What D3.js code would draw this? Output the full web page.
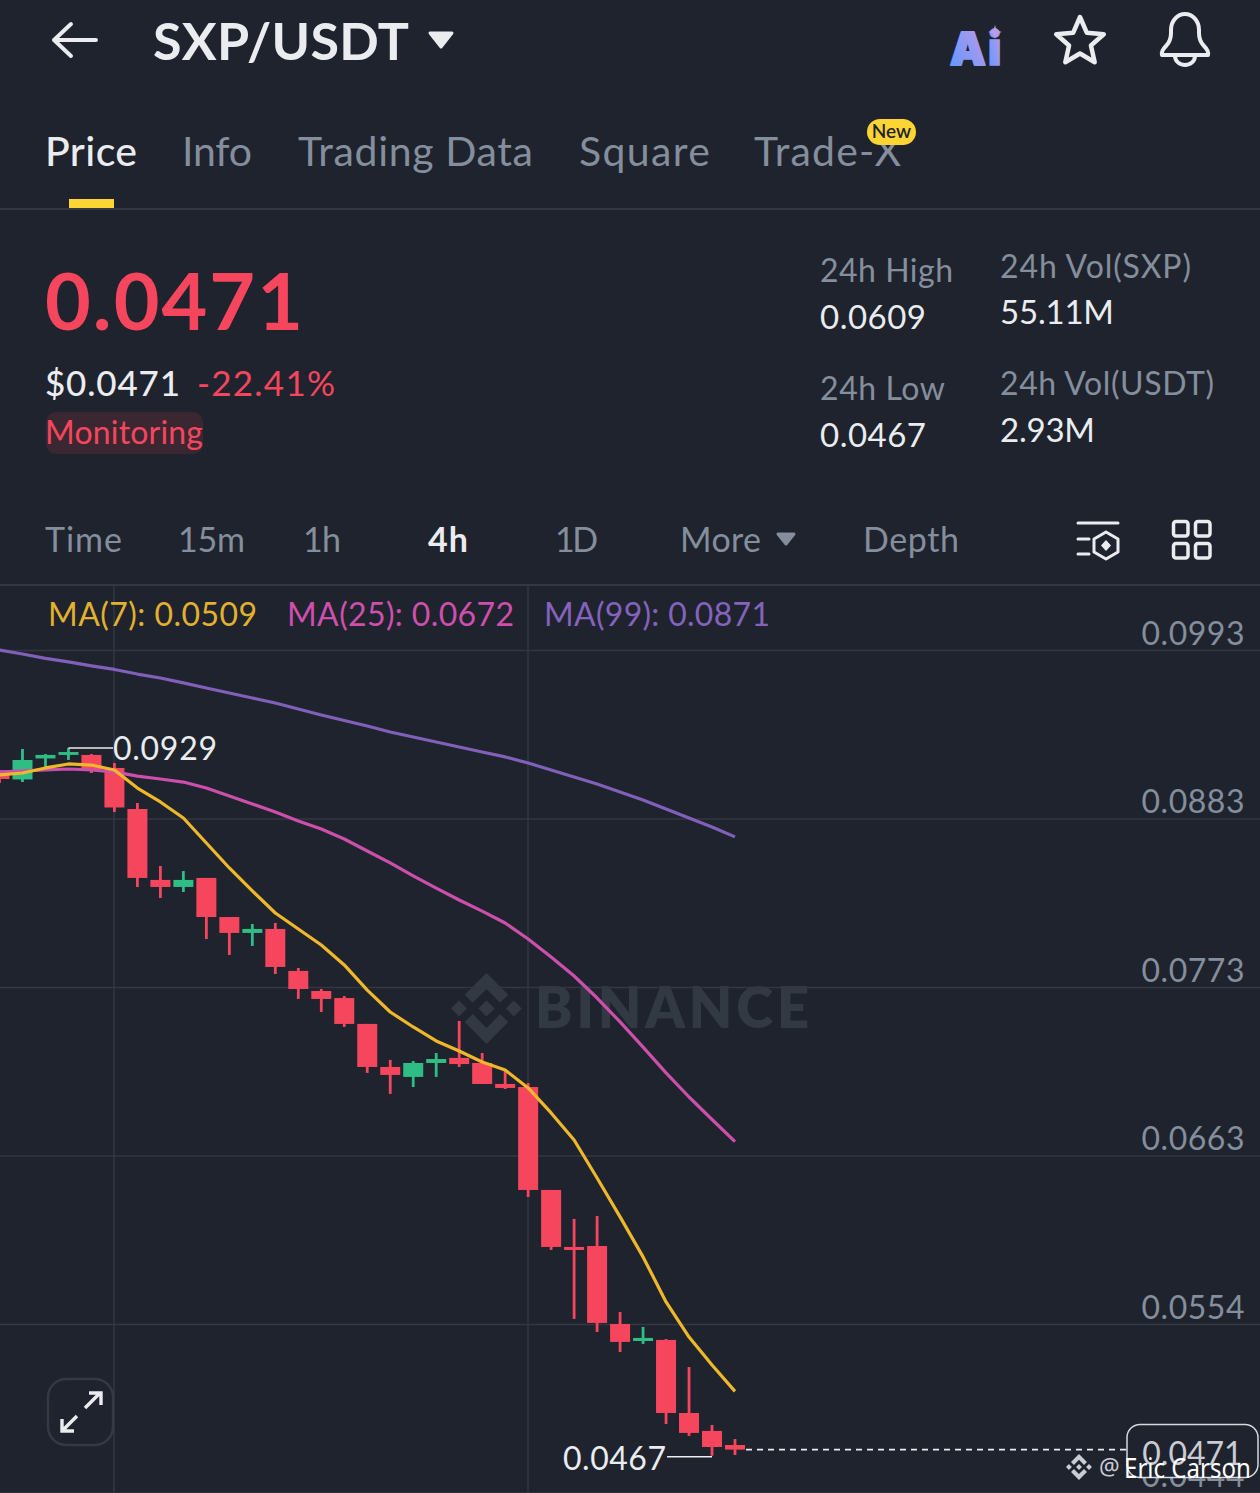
<!DOCTYPE html>
<html>
<head>
<meta charset="utf-8">
<script src="https://cdnjs.cloudflare.com/ajax/libs/d3/7.8.5/d3.min.js"></script>
<style>
  html, body { margin: 0; padding: 0; background: #1e232d; }
  svg { display: block; }
  text { font-family: "Lato", "Inter", sans-serif; }
</style>
</head>
<body>
<svg id="screen" width="1260" height="1493"></svg>
<script>
// 4h candles, oldest first
const opens  = [.09134,.09085,.09222,.09245,.09245,.0916,.08892,.08429,.08383,.08442,.08187,.08083,.08109,.07835,.07704,.07658,.07489,.07208,.07143,.07234,.07267,.07234,.07097,.07077,.06405,.06033,.06039,.0553,.05419,.05426,.04949,.04832,.0474];
const closes = [.09088,.09212,.09245,.09264,.09153,.08902,.08442,.08383,.08429,.08187,.08083,.08109,.07861,.07717,.07652,.07489,.07208,.07156,.07234,.0726,.07227,.07097,.07071,.06405,.06033,.06013,.05537,.05413,.05439,.04949,.04819,.04727,.0471];
const highs  = [.09147,.09284,.09251,.0929,.09251,.09192,.08931,.0852,.08487,.08442,.08187,.08141,.08148,.07854,.07717,.07671,.07489,.07254,.07247,.07299,.07508,.07299,.07188,.07103,.06405,.06216,.06235,.05608,.05511,.05432,.05249,.04871,.04779];
const lows   = [.09062,.09068,.0916,.09212,.09127,.08872,.08383,.08311,.0835,.08043,.07939,.07998,.07815,.07652,.07567,.07469,.07169,.07032,.07077,.07143,.07208,.07097,.07064,.06359,.06013,.05563,.05478,.05347,.054,.04877,.04799,.0467,.04675];

// Moving averages on the same candle index
const ma7  = [.09114,.09127,.0916,.09186,.09179,.09147,.09029,.08938,.08833,.0867,.08507,.08357,.08213,.08109,.08004,.07874,.0771,.07567,.07469,.07378,.07312,.0724,.07188,.07071,.06908,.06731,.06483,.06229,.05968,.05674,.05445,.05262,.0509];
const ma25 = [.09134,.0914,.09147,.09153,.09147,.09134,.09107,.09088,.09068,.09029,.08977,.08925,.08872,.08814,.08761,.08696,.08618,.0854,.08455,.08376,.08298,.08225,.08148,.08043,.07926,.07802,.07658,.07502,.07338,.07169,.07012,.06865,.0672];
const ma99 = [.0993,.09904,.09875,.09852,.09826,.09803,.09773,.09747,.09715,.09682,.09649,.09617,.09584,.09545,.09506,.0947,.09434,.09395,.09362,.09329,.09297,.09264,.09232,.09192,.09147,.09101,.09055,.09003,.08951,.08892,.08833,.08775,.0871];

// Price axis
const gridValues = [.0993,.0883,.0773,.0663,.0553,.0443];
const gridLabels = ["0.0993","0.0883","0.0773","0.0663","0.0554","0.0444"];

// Header and statistics text
const pair = "SXP/USDT";
const tabs = ["Price","Info","Trading Data","Square","Trade-X"];
const tabX = [45,182,298,579,754];
const tabW = [92,70,235,131,147];
const lastPrice = 0.0471, lowPrice = 0.0467, highPrice = 0.0929;
const changeText = "-22.41%";
const statLabels = ["24h High","24h Low","24h Vol(SXP)","24h Vol(USDT)"];
const statValues = ["0.0609","0.0467","55.11M","2.93M"];
const ranges = ["Time","15m","1h","4h","1D","More","Depth"];
const rangeX = [45,178,303,428,555,680,863];
const rangeW = [77,67,38,40,43,81,96];
const legendNames = ["MA(7): 0.0509","MA(25): 0.0672","MA(99): 0.0871"];
const legendX = [48,287,544];
const legendW = [209,227,226];

const BG = "#1e232d", RED = "#f6465d", GREEN = "#2ebd85", GRID = "#323741",
      GREY = "#848e9c", WHITE = "#eaecef", YELLOW = "#fcd535";
const MA_COLORS = ["#efb82a", "#cd4fac", "#8060b8"];

const svg = d3.select("#screen");
svg.append("rect").attr("width", 1260).attr("height", 1493).attr("fill", BG);

const defs = svg.append("defs");
const aiGrad = defs.append("linearGradient").attr("id", "aiFill")
  .attr("x1", 0).attr("y1", 1).attr("x2", 1).attr("y2", 0);
aiGrad.append("stop").attr("offset", "0%").attr("stop-color", "#5d97ff");
aiGrad.append("stop").attr("offset", "100%").attr("stop-color", "#c09be8");

// Text helper; an optional width stretches the string to that advance
function label(parent, str, x, y, size, fill, weight, anchor, width) {
  const t = parent.append("text").attr("x", x).attr("y", y).attr("font-size", size)
    .attr("fill", fill).attr("font-weight", weight || 400)
    .attr("text-anchor", anchor || "start").text(str);
  if (width) t.attr("textLength", width);
  return t;
}

// Top bar
const topBar = svg.append("g");
topBar.append("path").attr("d", "M96 40H54M71 24L54 40L71 56").attr("fill", "none")
  .attr("stroke", WHITE).attr("stroke-width", 4).attr("stroke-linecap", "round").attr("stroke-linejoin", "round");
label(topBar, pair, 153, 60, 52, WHITE, 700, "start", 256);
topBar.append("path").attr("d", "M430 33H452L441 47Z").attr("fill", WHITE).attr("stroke", WHITE)
  .attr("stroke-width", 3).attr("stroke-linejoin", "round");
label(topBar, "A", 950, 65, 45, "url(#aiFill)", 900).style("font-family", "Inter, sans-serif")
  .attr("stroke", "url(#aiFill)").attr("stroke-width", 2).attr("stroke-linejoin", "round");
label(topBar, "i", 988, 65, 45, "url(#aiFill)", 900).style("font-family", "Inter, sans-serif")
  .attr("stroke", "url(#aiFill)").attr("stroke-width", 1.5);
topBar.append("path").attr("d", "M995 25Q996 31 1002 32Q996 33 995 39Q994 33 988 32Q994 31 995 25Z").attr("fill", "#b79ce8");

const starLine = d3.lineRadial().curve(d3.curveLinearClosed);
const starPts = d3.range(10).map(i => [i * Math.PI / 5, i % 2 ? 11.5 : 25]);
topBar.append("path").attr("transform", "translate(1080,42)").attr("d", starLine(starPts))
  .attr("fill", "none").attr("stroke", WHITE).attr("stroke-width", 4.5).attr("stroke-linejoin", "round");
topBar.append("path")
  .attr("d", "M1162 55Q1161 51 1166 46Q1171 41 1171 33V30A14 16 0 0 1 1199 30V33Q1199 41 1204 46Q1209 51 1208 55ZM1175 56A10 9 0 0 0 1195 56")
  .attr("fill", "none").attr("stroke", WHITE).attr("stroke-width", 4).attr("stroke-linejoin", "round");

// Tabs
const tabG = svg.append("g");
tabs.forEach((t, i) => label(tabG, t, tabX[i], 166, 41, i === 0 ? WHITE : GREY, i === 0 ? 500 : 400, "start", tabW[i]));
tabG.append("rect").attr("x", 69).attr("y", 199).attr("width", 45).attr("height", 9).attr("fill", YELLOW);
tabG.append("rect").attr("x", 0).attr("y", 208).attr("width", 1260).attr("height", 2).attr("fill", GRID);
tabG.append("rect").attr("x", 867).attr("y", 119).attr("width", 49).attr("height", 26).attr("rx", 13)
  .attr("fill", YELLOW);
label(tabG, "New", 891.5, 138, 19, "#1e2329", 600, "middle");

// Price block
const priceG = svg.append("g");
label(priceG, lastPrice.toFixed(4), 45, 330, 79, RED, 700, "start", 258);
label(priceG, "$" + lastPrice.toFixed(4), 45, 396, 35, WHITE, 500, "start", 135);
label(priceG, changeText, 197, 396, 35, RED, 400, "start", 138);
priceG.append("rect").attr("x", 46).attr("y", 412).attr("width", 157).attr("height", 42).attr("rx", 10).attr("fill", "#3b2731");
label(priceG, "Monitoring", 45, 444, 32, RED, 400, "start", 158);

label(priceG, statLabels[0], 820, 282, 32, GREY, 400, "start", 133);
label(priceG, statValues[0], 820, 329, 33, WHITE, 400, "start", 106);
label(priceG, statLabels[1], 820, 400, 32, GREY, 400, "start", 125);
label(priceG, statValues[1], 820, 447, 33, WHITE, 400, "start", 106);
label(priceG, statLabels[2], 1000, 278, 32, GREY, 400, "start", 191);
label(priceG, statValues[2], 1000, 324, 33, WHITE, 400, "start", 114);
label(priceG, statLabels[3], 1000, 395, 32, GREY, 400, "start", 214);
label(priceG, statValues[3], 1000, 442, 33, WHITE, 400, "start", 95);

// Interval selector
const rangeG = svg.append("g");
ranges.forEach((r, i) => label(rangeG, r, rangeX[i], 552, 34, r === "4h" ? WHITE : GREY, r === "4h" ? 700 : 400, "start", rangeW[i]));
rangeG.append("path").attr("d", "M778 534H794L786 544Z").attr("fill", GREY).attr("stroke", GREY).attr("stroke-width", 3).attr("stroke-linejoin", "round");
rangeG.append("path")
  .attr("d", "M1078 523H1118M1078 539H1089M1078 554H1089M1106 532L1118 539V552L1106 559L1094 552V539Z")
  .attr("fill", "none").attr("stroke", WHITE).attr("stroke-width", 3).attr("stroke-linecap", "round").attr("stroke-linejoin", "round");
rangeG.append("path").attr("d", "M1106 540L1111 545.5L1106 551L1101 545.5Z").attr("fill", WHITE);
[[1172, 520], [1194, 520], [1172, 542], [1194, 542]].forEach(p => {
  rangeG.append("rect").attr("x", p[0] + 1.5).attr("y", p[1] + 1.5).attr("width", 14.5).attr("height", 14.5).attr("rx", 2.5)
    .attr("fill", "none").attr("stroke", WHITE).attr("stroke-width", 3.5);
});
rangeG.append("rect").attr("x", 0).attr("y", 584).attr("width", 1260).attr("height", 2).attr("fill", GRID);

// Chart scales
const x = d3.scaleLinear().domain([0, 32]).range([-0.5, 735]);
const y = d3.scaleLinear().domain([.0993, .0663]).range([650, 1155.5]);

// Faint exchange mark behind the candles
const logoPaths = [
  "M38.73 53.2l24.59-24.58 24.6 24.6 14.3-14.31L63.32 0 24.43 38.9z",
  "M0 63.31l14.3-14.31 14.31 14.31-14.31 14.3z",
  "M38.73 73.41l24.59 24.59 24.6-24.6 14.31 14.29-38.9 38.91-38.91-38.88z",
  "M98 63.31l14.3-14.31 14.31 14.31-14.31 14.3z",
  "M77.83 63.3L63.32 48.78 52.59 59.51l-1.24 1.23-2.54 2.54 14.51 14.5 14.51-14.47z"
];
function logo(parent, tx, ty, k, fill) {
  const g = parent.append("g").attr("transform", `translate(${tx},${ty}) scale(${k})`);
  logoPaths.forEach(d => g.append("path").attr("d", d).attr("fill", fill));
}
const chart = svg.append("g");
logo(chart, 451, 973, 0.56, "#333943");
chart.append("text").attr("x", 535).attr("y", 1028).attr("font-size", 56).attr("font-weight", 800)
  .attr("font-family", "Inter, sans-serif").attr("fill", "#333943").attr("textLength", 274).text("BINANCE");

// Vertical guides
[114, 528].forEach(gx => chart.append("rect").attr("x", gx - 0.75).attr("y", 586).attr("width", 1.5).attr("height", 907).attr("fill", GRID));

// Horizontal grid with price labels on the right
const axis = d3.axisRight(y).tickValues(gridValues).tickSize(1260).tickFormat((d, i) => gridLabels[i]);
const axisG = chart.append("g").call(axis);
axisG.select(".domain").remove();
axisG.selectAll(".tick line").attr("stroke", GRID).attr("stroke-width", 1.5);
axisG.selectAll(".tick text")
  .attr("x", 1244.5).attr("dy", -6).attr("text-anchor", "end").attr("textLength", 103)
  .attr("font-size", 32).attr("font-family", "Lato, sans-serif").attr("fill", GREY);

// Candles
const candles = d3.range(opens.length).map(i => ({ i, o: opens[i], c: closes[i], h: highs[i], l: lows[i] }));
const colour = d => d.c >= d.o ? GREEN : RED;
const bodyW = 20, wickW = 2.8;
const cg = chart.append("g").selectAll("g").data(candles).join("g");
cg.append("rect").attr("x", d => x(d.i) - wickW / 2).attr("width", wickW)
  .attr("y", d => y(d.h)).attr("height", d => y(d.l) - y(d.h)).attr("fill", colour);
cg.append("rect").attr("x", d => x(d.i) - bodyW / 2).attr("width", bodyW)
  .attr("y", d => y(Math.max(d.o, d.c)))
  .attr("height", d => Math.max(2.5, Math.abs(y(d.o) - y(d.c)))).attr("fill", colour);

// Moving averages
const maLine = d3.line().x((d, i) => x(i)).y(d => y(d));
[ma99, ma25, ma7].forEach((series, k) => {
  chart.append("path").datum(series).attr("d", maLine).attr("fill", "none")
    .attr("stroke", MA_COLORS[2 - k]).attr("stroke-width", 3.2).attr("stroke-linejoin", "round");
});

// Moving-average legend
legendNames.forEach((n, i) => label(chart, n, legendX[i], 626, 32, ["#e2b12f", "#cf4fae", "#8562bd"][i], 400, "start", legendW[i]));

// High and low callouts
const hiIdx = highs.indexOf(highPrice), loIdx = lows.indexOf(lowPrice);
chart.append("line").attr("x1", x(hiIdx)).attr("x2", 113).attr("y1", y(highPrice)).attr("y2", y(highPrice)).attr("stroke", WHITE).attr("stroke-width", 1.5);
label(chart, highPrice.toFixed(4), 113, 760, 32, WHITE, 400, "start", 104);
chart.append("line").attr("x1", 667).attr("x2", x(loIdx)).attr("y1", y(lowPrice) + 1).attr("y2", y(lowPrice) + 1).attr("stroke", WHITE).attr("stroke-width", 1.5);
label(chart, lowPrice.toFixed(4), 563, 1470, 32, WHITE, 400, "start", 103);

// Last-price marker
chart.append("line").attr("x1", 746).attr("x2", 1127).attr("y1", y(lastPrice)).attr("y2", y(lastPrice))
  .attr("stroke", WHITE).attr("stroke-width", 1.8).attr("stroke-dasharray", "6 5");
chart.append("rect").attr("x", 1127).attr("y", 1424.5).attr("width", 131).attr("height", 53).attr("rx", 13)
  .attr("fill", BG).attr("stroke", "#d5d8dd").attr("stroke-width", 1.5);
label(chart, lastPrice.toFixed(4), 1192.5, 1465, 32, "#c9ccd2", 400, "middle");

// Expand button
const btn = svg.append("g");
btn.append("rect").attr("x", 48).attr("y", 1379).attr("width", 65).attr("height", 66).attr("rx", 18)
  .attr("fill", BG).attr("stroke", "#343a44").attr("stroke-width", 2.5);
btn.append("path").attr("d", "M85 1408L100 1393M89 1393H101V1405M77 1416L62 1431M62 1419V1431H74")
  .attr("fill", "none").attr("stroke", WHITE).attr("stroke-width", 3.4);

// Author credit
const credit = svg.append("g");
logo(credit, 1066, 1454, 0.205, "#c9cdd3");
label(credit, "@", 1099, 1475, 23, "#c9cdd3").style("font-family", "'Noto Sans', sans-serif");
label(credit, "Eric Carson", 1124, 1478, 27, "#ffffff", 400, "start", 127)
  .attr("lengthAdjust", "spacingAndGlyphs").style("font-family", "'Noto Sans', sans-serif");
</script>
</body>
</html>
